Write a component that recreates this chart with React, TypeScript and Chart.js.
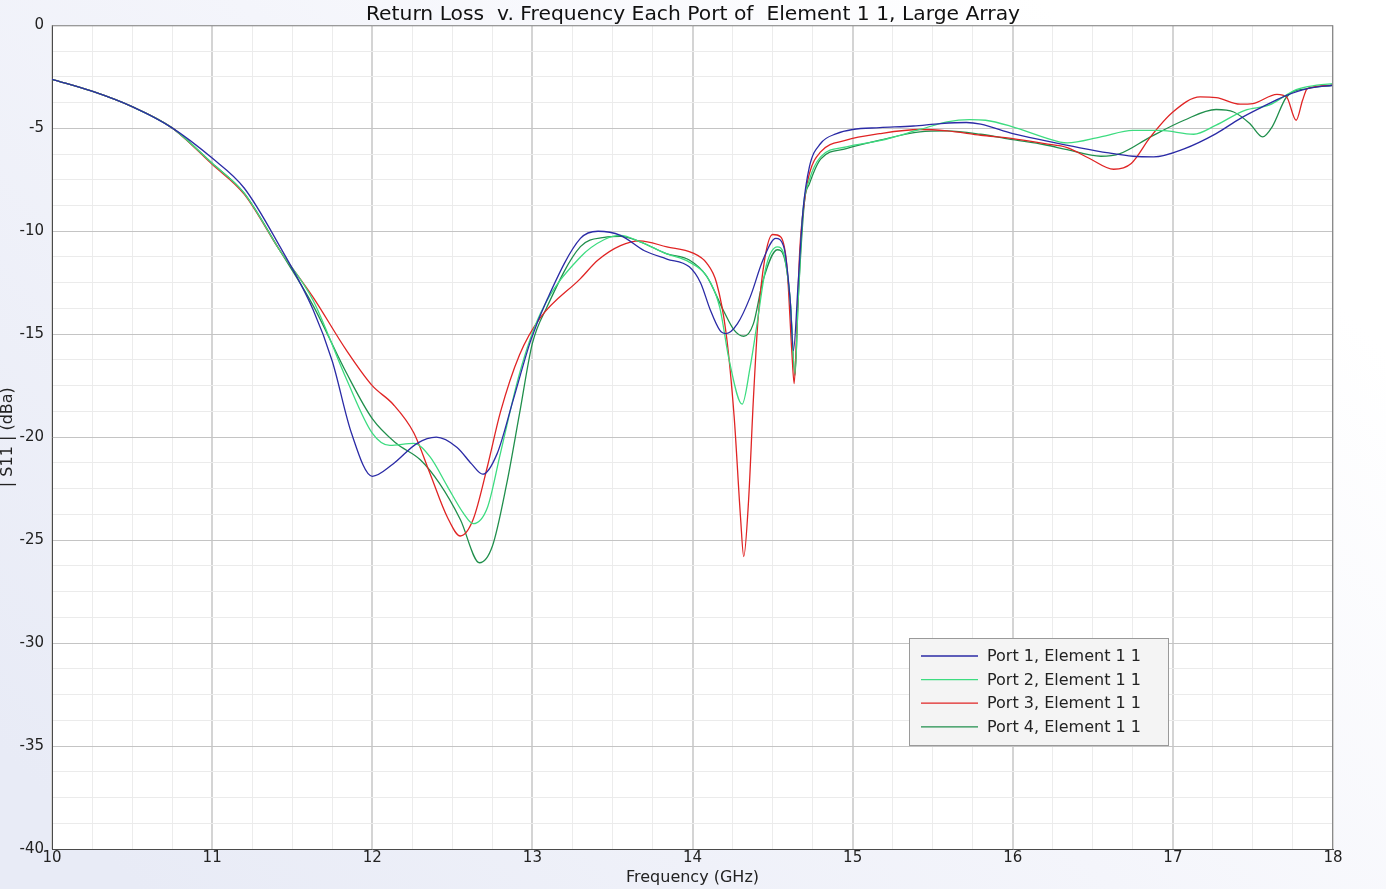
import React, { useEffect, useRef } from "react";
import { Chart, registerables } from "chart.js";

Chart.register(...registerables);

const TITLE = "Return Loss  v. Frequency Each Port of  Element 1 1, Large Array";
const X_TITLE = "Frequency (GHz)";
const Y_TITLE = "| S11 | (dBa)";

const X_MIN = 10;
const X_MAX = 18;
const X_MINOR_STEP = 0.25;
const X_MAJOR_STEP = 1;
const Y_MIN = -40;
const Y_MAX = 0;
const Y_MINOR_STEP = 1.25;
const Y_MAJOR_STEP = 5;

const SERIES_LABELS = [
  "Port 1, Element 1 1",
  "Port 2, Element 1 1",
  "Port 3, Element 1 1",
  "Port 4, Element 1 1",
];
const SERIES_COLORS = ["#2b2ba6", "#3ddc80", "#e02424", "#208f4c"];

const port1Freq = [10, 10.25, 10.5, 10.75, 11.0, 11.2, 11.42, 11.63, 11.75, 11.87, 12.0, 12.13, 12.28, 12.4, 12.53, 12.62, 12.69, 12.78, 12.88, 12.99, 13.09, 13.3, 13.41, 13.55, 13.7, 13.84, 13.98, 14.05, 14.11, 14.17, 14.21, 14.28, 14.36, 14.44, 14.52, 14.57, 14.61, 14.63, 14.66, 14.69, 14.73, 14.8, 14.9, 15.0, 15.17, 15.38, 15.55, 15.71, 15.8, 16.0, 16.2, 16.42, 16.6, 16.75, 16.88, 17.07, 17.27, 17.42, 17.55, 17.71, 17.84, 18.0];
const port1Loss = [-2.62, -3.2, -3.95, -4.98, -6.45, -7.9, -10.7, -13.8, -16.3, -19.8, -21.9, -21.3, -20.3, -20.0, -20.5, -21.3, -21.8, -20.8, -18.2, -15.3, -13.35, -10.35, -10.0, -10.2, -10.95, -11.35, -11.73, -12.5, -13.8, -14.8, -14.97, -14.5, -13.2, -11.4, -10.35, -10.76, -13.35, -15.8, -12.5, -9.0, -6.88, -5.74, -5.26, -5.06, -4.97, -4.89, -4.77, -4.72, -4.8, -5.26, -5.6, -5.95, -6.2, -6.36, -6.39, -6.0, -5.26, -4.53, -4.0, -3.4, -3.07, -2.91];

const port2Freq = [10, 10.25, 10.5, 10.75, 11.0, 11.2, 11.42, 11.63, 11.84, 12.0, 12.11, 12.26, 12.36, 12.47, 12.57, 12.63, 12.72, 12.8, 12.92, 13.05, 13.3, 13.45, 13.55, 13.67, 13.84, 13.98, 14.09, 14.17, 14.23, 14.31, 14.36, 14.4, 14.46, 14.53, 14.57, 14.61, 14.64, 14.66, 14.69, 14.73, 14.8, 14.96, 15.17, 15.42, 15.59, 15.73, 15.83, 16.0, 16.2, 16.34, 16.55, 16.75, 16.92, 17.13, 17.27, 17.45, 17.6, 17.77, 17.9, 18.0];
const port2Loss = [-2.62, -3.2, -3.95, -4.98, -6.7, -8.15, -10.9, -13.35, -17.2, -19.8, -20.4, -20.3, -20.95, -22.4, -23.7, -24.2, -23.4, -20.8, -16.9, -14.0, -11.25, -10.4, -10.2, -10.5, -11.1, -11.5, -12.2, -13.7, -16.3, -18.4, -16.6, -14.65, -11.7, -10.76, -11.1, -13.35, -16.9, -13.35, -9.0, -7.5, -6.39, -5.9, -5.6, -5.06, -4.69, -4.58, -4.61, -4.93, -5.45, -5.71, -5.42, -5.1, -5.1, -5.29, -4.85, -4.13, -3.88, -3.12, -2.91, -2.83];

const port3Freq = [10, 10.25, 10.5, 10.75, 11.0, 11.2, 11.42, 11.63, 11.84, 12.0, 12.13, 12.26, 12.36, 12.47, 12.55, 12.63, 12.72, 12.8, 12.92, 13.05, 13.3, 13.41, 13.55, 13.67, 13.84, 14.0, 14.09, 14.15, 14.21, 14.26, 14.3, 14.32, 14.35, 14.38, 14.41, 14.45, 14.5, 14.55, 14.59, 14.62, 14.635, 14.65, 14.67, 14.7, 14.73, 14.8, 14.96, 15.17, 15.42, 15.59, 15.8, 16.0, 16.2, 16.34, 16.48, 16.63, 16.74, 16.86, 17.0, 17.17, 17.27, 17.42, 17.5, 17.65, 17.71, 17.77, 17.81, 17.84, 18.0];
const port3Loss = [-2.62, -3.2, -3.95, -4.98, -6.75, -8.2, -10.9, -13.2, -15.8, -17.5, -18.4, -19.8, -21.75, -23.9, -24.8, -24.0, -21.4, -18.8, -16.0, -14.2, -12.3, -11.4, -10.7, -10.47, -10.76, -11.05, -11.56, -12.5, -14.96, -19.0, -23.9, -25.8, -23.1, -18.2, -14.2, -11.4, -10.16, -10.27, -11.73, -15.8, -17.4, -14.95, -10.9, -8.5, -7.2, -6.15, -5.58, -5.26, -5.06, -5.13, -5.34, -5.5, -5.75, -5.94, -6.47, -6.99, -6.71, -5.42, -4.21, -3.48, -3.51, -3.83, -3.8, -3.35, -3.48, -4.61, -3.64, -3.07, -2.91];

const port4Freq = [10, 10.25, 10.5, 10.75, 11.0, 11.2, 11.42, 11.63, 11.84, 12.0, 12.15, 12.3, 12.42, 12.55, 12.67, 12.75, 12.84, 12.92, 13.0, 13.09, 13.3, 13.45, 13.55, 13.67, 13.84, 13.98, 14.09, 14.19, 14.26, 14.32, 14.38, 14.44, 14.53, 14.57, 14.61, 14.64, 14.66, 14.7, 14.73, 14.8, 14.96, 15.17, 15.42, 15.59, 15.8, 16.0, 16.2, 16.34, 16.55, 16.67, 16.86, 17.07, 17.27, 17.38, 17.48, 17.56, 17.62, 17.71, 17.84, 18.0];
const port4Loss = [-2.62, -3.2, -3.95, -4.98, -6.7, -8.15, -10.9, -13.6, -16.9, -19.1, -20.3, -21.1, -22.25, -24.0, -26.1, -25.3, -22.25, -18.85, -15.45, -13.7, -10.75, -10.3, -10.25, -10.5, -11.1, -11.4, -12.2, -13.8, -14.8, -15.1, -14.5, -12.4, -10.9, -11.2, -13.35, -17.0, -13.35, -8.5, -7.7, -6.5, -5.99, -5.58, -5.18, -5.13, -5.29, -5.55, -5.8, -6.04, -6.36, -6.23, -5.42, -4.61, -4.09, -4.21, -4.77, -5.42, -4.93, -3.48, -3.07, -2.91];

const SERIES_FREQ = [port1Freq, port2Freq, port3Freq, port4Freq];
const SERIES_LOSS = [port1Loss, port2Loss, port3Loss, port4Loss];

const FONT = "'DejaVu Sans', 'Noto Sans', sans-serif";

const isMultiple = (v: number, step: number) =>
  Math.abs(v / step - Math.round(v / step)) < 1e-6;

const backgroundPlugin = {
  id: "bgPlugin",
  beforeDraw(chart: any) {
    const { ctx, width, height, chartArea: a } = chart;
    ctx.save();
    const g = ctx.createLinearGradient(width * 0.75, 0, width * 0.1, height);
    g.addColorStop(0, "#ffffff");
    g.addColorStop(0.45, "#f4f5fb");
    g.addColorStop(1, "#e8ebf6");
    ctx.fillStyle = g;
    ctx.fillRect(0, 0, width, height);
    ctx.fillStyle = "#ffffff";
    ctx.fillRect(a.left, a.top, a.right - a.left, a.bottom - a.top);
    ctx.restore();
  },
};

const framePlugin = {
  id: "framePlugin",
  afterDraw(chart: any) {
    const { ctx, chartArea: a } = chart;
    ctx.save();
    ctx.strokeStyle = "#8a8a8a";
    ctx.lineWidth = 1;
    ctx.beginPath();
    ctx.moveTo(a.left, a.top + 0.5);
    ctx.lineTo(a.right, a.top + 0.5);
    ctx.moveTo(a.right - 0.5, a.top);
    ctx.lineTo(a.right - 0.5, a.bottom);
    ctx.stroke();

    // legend box
    const boxRight = a.right - 164;
    const boxLeft = boxRight - 260;
    const boxBottom = a.bottom - 103;
    const boxTop = boxBottom - 108;
    ctx.fillStyle = "#f4f4f4";
    ctx.fillRect(boxLeft, boxTop, boxRight - boxLeft, boxBottom - boxTop);
    ctx.strokeStyle = "#9a9a9a";
    ctx.strokeRect(boxLeft + 0.5, boxTop + 0.5, boxRight - boxLeft - 1, boxBottom - boxTop - 1);
    ctx.font = `16px ${FONT}`;
    ctx.textBaseline = "middle";
    ctx.textAlign = "left";
    chart.data.datasets.forEach((ds: any, i: number) => {
      const y = boxTop + 18 + i * 23.6;
      ctx.strokeStyle = ds.borderColor;
      ctx.lineWidth = 1.3;
      ctx.beginPath();
      ctx.moveTo(boxLeft + 12, y);
      ctx.lineTo(boxLeft + 69, y);
      ctx.stroke();
      ctx.fillStyle = "#222222";
      ctx.fillText(ds.label, boxLeft + 78, y + 1);
    });
    ctx.restore();
  },
};

export default function App() {
  const canvasRef = useRef<HTMLCanvasElement | null>(null);

  useEffect(() => {
    document.body.style.margin = "0";
    const canvas = canvasRef.current;
    if (!canvas) return;

    const datasets = SERIES_LABELS.map((label, i) => ({
      label,
      data: SERIES_FREQ[i].map((f, j) => ({ x: f, y: SERIES_LOSS[i][j] })),
      borderColor: SERIES_COLORS[i],
      backgroundColor: SERIES_COLORS[i],
      borderWidth: 1.3,
      pointRadius: 0,
      cubicInterpolationMode: "monotone" as const,
      fill: false,
      xAxisID: "x",
      yAxisID: "y",
    }));

    const chart = new Chart(canvas, {
      type: "line",
      data: { datasets },
      options: {
        responsive: false,
        animation: false,
        devicePixelRatio: 1,
        layout: { padding: 0 },
        plugins: {
          legend: { display: false },
          tooltip: { enabled: false },
          title: {
            display: true,
            text: TITLE,
            color: "#111111",
            font: { family: FONT, size: 20.3, weight: "normal", lineHeight: 1 },
            padding: { top: 5, bottom: 0 },
          },
        },
        scales: {
          x: {
            type: "linear",
            min: X_MIN,
            max: X_MAX,
            afterFit: (scale: any) => {
              scale.height = 40;
            },
            ticks: {
              stepSize: X_MINOR_STEP,
              autoSkip: false,
              maxRotation: 0,
              padding: 0,
              color: "#222222",
              font: { family: FONT, size: 15 },
              callback: (v: any) => (isMultiple(Number(v), X_MAJOR_STEP) ? String(Math.round(Number(v))) : ""),
            },
            grid: {
              drawTicks: false,
              color: (ctx: any) => (isMultiple(ctx.tick.value, X_MAJOR_STEP) ? "#d4d4d4" : "#ececec"),
              lineWidth: (ctx: any) => (isMultiple(ctx.tick.value, X_MAJOR_STEP) ? 2 : 1),
            },
            border: { display: true, color: "#4a4a4a", width: 1 },
            title: {
              display: true,
              text: X_TITLE,
              color: "#222222",
              font: { family: FONT, size: 16, lineHeight: 1.2 },
              padding: { top: 0, bottom: 2 },
            },
          },
          y: {
            type: "linear",
            position: "left",
            min: Y_MIN,
            max: Y_MAX,
            afterFit: (scale: any) => {
              scale.width = 52;
            },
            ticks: {
              stepSize: Y_MINOR_STEP,
              autoSkip: false,
              padding: 8,
              color: "#222222",
              font: { family: FONT, size: 15 },
              callback: (v: any) => (isMultiple(Number(v), Y_MAJOR_STEP) ? String(Math.round(Number(v))) : ""),
            },
            grid: {
              drawTicks: false,
              color: (ctx: any) => (isMultiple(ctx.tick.value, Y_MAJOR_STEP) ? "#c4c4c4" : "#ebebeb"),
              lineWidth: 1,
            },
            border: { display: true, color: "#4a4a4a", width: 1 },
            title: {
              display: true,
              text: Y_TITLE,
              color: "#222222",
              font: { family: FONT, size: 16, lineHeight: 1 },
              padding: { top: 0, bottom: 0 },
            },
          },
          spacer: {
            type: "linear",
            position: "right",
            min: Y_MIN,
            max: Y_MAX,
            afterFit: (scale: any) => {
              scale.width = 53;
            },
            ticks: { display: false },
            grid: { display: false, drawTicks: false },
            border: { display: false },
            title: { display: false },
          },
        },
      },
      plugins: [backgroundPlugin, framePlugin],
    });

    return () => chart.destroy();
  }, []);

  return (
    <div style={{ width: 1386, height: 889 }}>
      <canvas ref={canvasRef} width={1386} height={889} style={{ display: "block" }} />
    </div>
  );
}
